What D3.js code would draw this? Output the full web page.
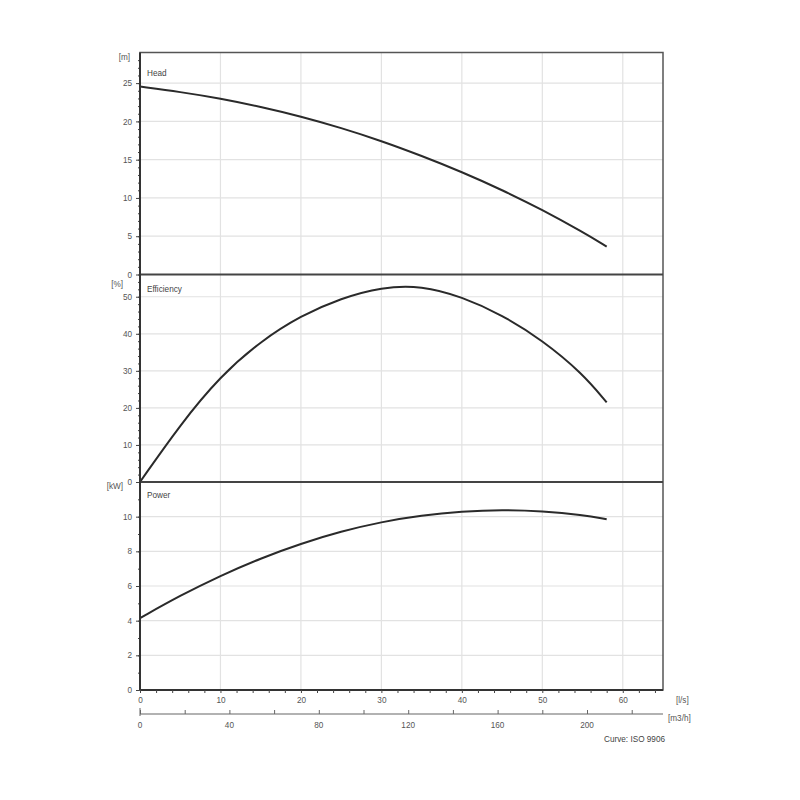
<!DOCTYPE html>
<html>
<head>
<meta charset="utf-8">
<script src="https://cdn.jsdelivr.net/npm/d3@7"></script>
<style>
  body { margin: 0; background: #fff; }
  svg text { font-family: "Liberation Sans", Arial, sans-serif; }
</style>
</head>
<body>
<svg id="chart" width="800" height="800"></svg>
<script>
'use strict';
(function() {

    // data (flow in l/s)
    var flow       = [0, 5, 10, 15, 20, 25, 30, 35, 40, 45, 50, 55, 58];
    var head       = [24.55, 23.85, 23.0, 21.9, 20.65, 19.15, 17.45, 15.5, 13.4, 11.05, 8.45, 5.55, 3.65];
    var efficiency = [0, 15.5, 28.6, 38.0, 44.9, 49.6, 52.6, 53.0, 50.0, 45.1, 38.3, 29.3, 21.5];
    var power      = [4.15, 5.45, 6.6, 7.6, 8.45, 9.15, 9.7, 10.07, 10.3, 10.4, 10.32, 10.1, 9.85];

    // tick labels
    var lsTicks   = [0, 10, 20, 30, 40, 50, 60];
    var m3hTicks  = [0, 40, 80, 120, 160, 200];
    var headTicks = [0, 5, 10, 15, 20, 25];
    var effTicks  = [0, 10, 20, 30, 40, 50];
    var powTicks  = [0, 2, 4, 6, 8, 10];

    var left = 140, right = 663, top = 52.5, bottom = 690;
    var split1 = 274.5, split2 = 482;
    var fs = '8.2px';

    var svg = d3.select('#chart');

    var x = d3.scaleLinear().domain([0, 65]).range([left, right]);
    var xm3h = d3.scaleLinear().domain([0, 65 * 3.6]).range([left, right]);

    var panels = [
        { name: 'Head', unit: '[m]', y: d3.scaleLinear().domain([0, 29]).range([split1, top]),
          ticks: headTicks, minor: d3.range(0, 29, 1), values: head,
          unitX: 130, unitDy: 7, titleDy: 23 },
        { name: 'Efficiency', unit: '[%]', y: d3.scaleLinear().domain([0, 56]).range([split2, split1]),
          ticks: effTicks, minor: d3.range(0, 56, 2), values: efficiency,
          unitX: 123, unitDy: 12, titleDy: 17 },
        { name: 'Power', unit: '[kW]', y: d3.scaleLinear().domain([0, 12]).range([bottom, split2]),
          ticks: powTicks, minor: d3.range(0, 12, 1), values: power,
          unitX: 123, unitDy: 7, titleDy: 16 }
    ];

    // vertical grid
    svg.append('g').selectAll('line')
        .data(lsTicks.slice(1))
        .enter().append('line')
        .attr('x1', function(d) { return x(d); })
        .attr('x2', function(d) { return x(d); })
        .attr('y1', top).attr('y2', bottom)
        .attr('stroke', '#e2e2e2').attr('stroke-width', 1.2);

    panels.forEach(function(p) {
        var y = p.y;

        // horizontal grid
        svg.append('g').selectAll('line')
            .data(p.ticks.slice(1))
            .enter().append('line')
            .attr('x1', left).attr('x2', right)
            .attr('y1', function(d) { return y(d); })
            .attr('y2', function(d) { return y(d); })
            .attr('stroke', '#e2e2e2').attr('stroke-width', 1.2);

        // minor ticks on the left axis
        svg.append('g')
            .attr('transform', 'translate(' + left + ',0)')
            .call(d3.axisLeft(y).tickValues(p.minor).tickSize(2).tickFormat(''))
            .call(function(g) { g.select('.domain').remove(); })
            .selectAll('line').attr('stroke', '#444');

        // labelled ticks
        var ax = svg.append('g')
            .attr('transform', 'translate(' + left + ',0)')
            .call(d3.axisLeft(y).tickValues(p.ticks).tickSize(4).tickPadding(4));
        ax.select('.domain').remove();
        ax.selectAll('line').attr('stroke', '#444');
        ax.selectAll('text').attr('fill', '#555').style('font-size', fs);

        // unit and title
        svg.append('text')
            .attr('x', p.unitX).attr('y', y.range()[1] + p.unitDy)
            .attr('text-anchor', 'end')
            .attr('fill', '#555').style('font-size', fs)
            .text(p.unit);
        svg.append('text')
            .attr('x', left + 7).attr('y', y.range()[1] + p.titleDy)
            .attr('fill', '#444').style('font-size', fs)
            .text(p.name);

        // curve
        var line = d3.line()
            .x(function(d, i) { return x(flow[i]); })
            .y(function(d) { return y(d); })
            .curve(d3.curveBasis);
        svg.append('path')
            .datum(p.values)
            .attr('d', line)
            .attr('fill', 'none')
            .attr('stroke', '#2a2a2a')
            .attr('stroke-width', 2);
    });

    // frame and panel splits
    svg.append('rect')
        .attr('x', left).attr('y', top)
        .attr('width', right - left).attr('height', bottom - top)
        .attr('fill', 'none').attr('stroke', '#555').attr('stroke-width', 1.5);
    [split1, split2].forEach(function(s) {
        svg.append('line')
            .attr('x1', left).attr('x2', right).attr('y1', s).attr('y2', s)
            .attr('stroke', '#444').attr('stroke-width', 2);
    });
    svg.append('line')
        .attr('x1', left).attr('x2', left).attr('y1', top).attr('y2', bottom)
        .attr('stroke', '#333').attr('stroke-width', 2);
    svg.append('line')
        .attr('x1', left).attr('x2', right).attr('y1', bottom).attr('y2', bottom)
        .attr('stroke', '#333').attr('stroke-width', 2);

    // l/s axis
    var lsMinor = svg.append('g')
        .attr('transform', 'translate(0,' + bottom + ')')
        .call(d3.axisBottom(x).tickValues(d3.range(0, 65, 2)).tickSize(3).tickFormat(''));
    lsMinor.select('.domain').remove();
    lsMinor.selectAll('line').attr('stroke', '#444');

    var lsAxis = svg.append('g')
        .attr('transform', 'translate(0,' + bottom + ')')
        .call(d3.axisBottom(x).tickValues(lsTicks).tickSize(0).tickPadding(7));
    lsAxis.select('.domain').remove();
    lsAxis.selectAll('text').attr('fill', '#555').style('font-size', fs);
    svg.append('text')
        .attr('x', 676).attr('y', 703)
        .attr('fill', '#555').style('font-size', fs)
        .text('[l/s]');

    // m3/h axis
    var m3hY = 714;
    var m3hAxis = svg.append('g')
        .attr('transform', 'translate(0,' + m3hY + ')')
        .call(d3.axisTop(xm3h).tickValues(d3.range(0, 221, 20)).tickSize(4).tickFormat(''));
    m3hAxis.select('.domain').remove();
    m3hAxis.selectAll('line').attr('stroke', '#666');
    svg.append('line')
        .attr('x1', left).attr('x2', left).attr('y1', m3hY - 6).attr('y2', m3hY + 2)
        .attr('stroke', '#666');
    svg.append('line')
        .attr('x1', left).attr('x2', right).attr('y1', m3hY).attr('y2', m3hY)
        .attr('stroke', '#666').attr('stroke-width', 1.2);
    svg.append('g').selectAll('text')
        .data(m3hTicks)
        .enter().append('text')
        .attr('x', function(d) { return xm3h(d); })
        .attr('y', 728)
        .attr('text-anchor', 'middle')
        .attr('fill', '#555').style('font-size', fs)
        .text(function(d) { return d; });
    svg.append('text')
        .attr('x', 668).attr('y', 721)
        .attr('fill', '#555').style('font-size', fs)
        .text('[m3/h]');

    svg.append('text')
        .attr('x', 665).attr('y', 742)
        .attr('text-anchor', 'end')
        .attr('fill', '#444').style('font-size', fs)
        .text('Curve: ISO 9906');

})();
</script>
</body>
</html>
